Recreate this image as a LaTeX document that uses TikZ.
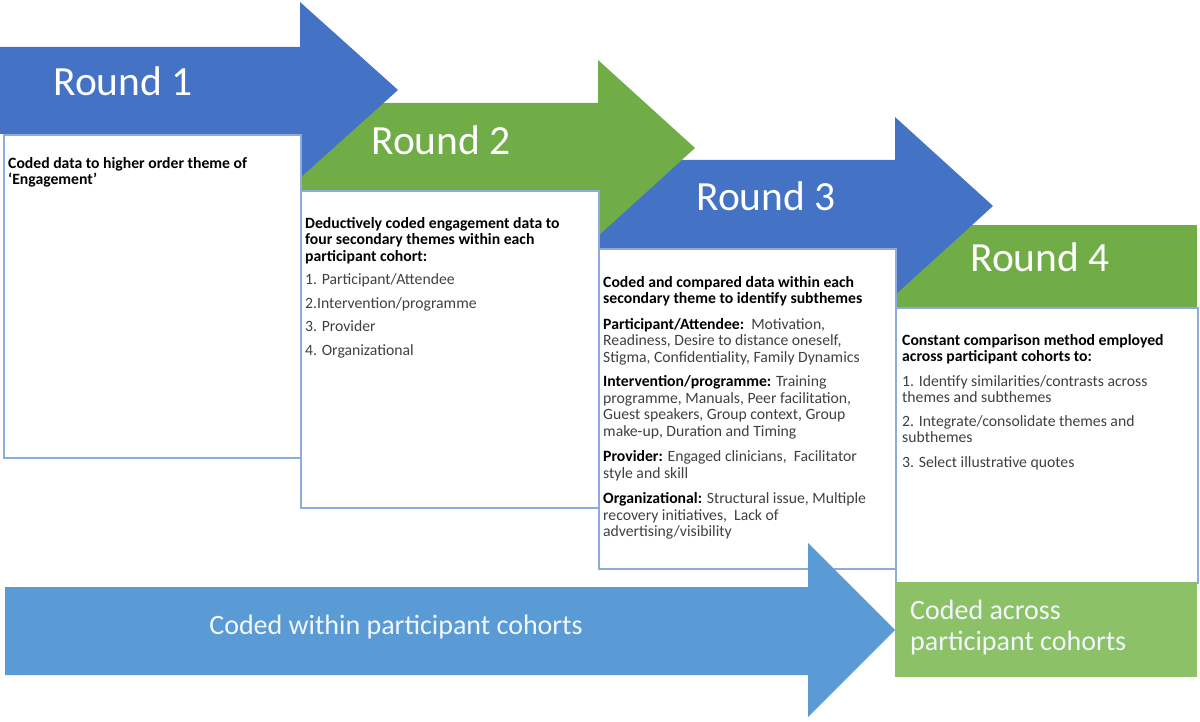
\documentclass[tikz,border=0pt]{standalone}
\usepackage{fontspec}
\setmainfont{Carlito}
\definecolor{rblue}{HTML}{4472C4}
\definecolor{rgreen}{HTML}{70AD47}
\definecolor{lblue}{HTML}{5B9BD5}
\definecolor{lgreen}{HTML}{8CC168}
\definecolor{edgec}{HTML}{8FAADC}
\definecolor{txt}{HTML}{404040}
\begin{document}
\begin{tikzpicture}[x=1pt,y=-1pt,
  box/.style={draw=edgec, line width=1.8pt, fill=white, inner sep=0pt, anchor=north west},
  roundlbl/.style={text=white, font=\fontsize{41.5}{48}\selectfont, inner sep=0pt},
  bodytxt/.style={anchor=north west, align=left, inner sep=0pt, text=txt, font=\fontsize{15.7}{16.5}\selectfont},
  bigtxt/.style={text=white!92!lblue, inner sep=0pt, font=\fontsize{28}{31}\selectfont, align=left},
]
\useasboundingbox (0,0) rectangle (1200,722);
\newcommand{\bt}[1]{\textbf{\color{black}#1}}

% Round 4
\fill[rgreen] (895,225) rectangle (1197,307);
\node[box, minimum width=302pt, minimum height=275pt] (b4) at (895,307) {};

% Round 3
\fill[rblue] (598,160) -- (895,160) -- (895,117) -- (993,206) -- (895,295) -- (895,248) -- (598,248) -- cycle;
\node[box, minimum width=297pt, minimum height=320pt] (b3) at (598,248) {};

% Round 2
\fill[rgreen] (300,103) -- (598,103) -- (598,60) -- (695,148) -- (598,236) -- (598,190) -- (300,190) -- cycle;
\node[box, minimum width=298pt, minimum height=317pt] (b2) at (300,190) {};

% Round 1
\fill[rblue] (0,47) -- (300,47) -- (300,2) -- (398,90) -- (300,178) -- (300,134) -- (0,134) -- cycle;
\node[box, minimum width=297pt, minimum height=323pt] (b1) at (3,134) {};

% bottom arrow
\fill[lblue] (5,587) -- (808,587) -- (808,543) -- (895,630) -- (808,717) -- (808,675) -- (5,675) -- cycle;
\node[fill=lgreen, inner sep=0pt, minimum width=302pt, minimum height=95pt, anchor=north west] (across) at (895,582) {};

% round labels
\node[roundlbl] (r1) at (123,81) {Round 1};
\node[roundlbl] (r2) at (441,140) {Round 2};
\node[roundlbl] (r3) at (766,196) {Round 3};
\node[roundlbl] (r4) at (1040,257) {Round 4};

% bottom labels
\node[bigtxt] (within) at (396,627) {Coded within participant cohorts};
\node[bigtxt, anchor=west] (acrosstxt) at (910,628) {Coded across\\participant cohorts};

% box texts
\node[bodytxt] (t1) at (8,157) {\bt{Coded data to higher order theme of}\\\bt{`Engagement'}};

\node[bodytxt] (t2) at (305,217) {\bt{Deductively coded engagement data to}\\
\bt{four secondary themes within each}\\
\bt{participant cohort:}\\[7pt]
1. Participant/Attendee\\[7pt]
2.Intervention/programme\\[7pt]
3. Provider\\[7pt]
4. Organizational};

\node[bodytxt] (t3) at (603,276) {\bt{Coded and compared data within each}\\
\bt{secondary theme to identify subthemes}\\[9pt]
\bt{Participant/Attendee:}\ \ Motivation,\\
Readiness, Desire to distance oneself,\\
Stigma, Confidentiality, Family Dynamics\\[8pt]
\bt{Intervention/programme:} Training\\
programme, Manuals, Peer facilitation,\\
Guest speakers, Group context, Group\\
make-up, Duration and Timing\\[9pt]
\bt{Provider:} Engaged clinicians,\ \ Facilitator\\
style and skill\\[9pt]
\bt{Organizational:} Structural issue, Multiple\\
recovery initiatives,\ \ Lack of\\
advertising/visibility};

\node[bodytxt] (t4) at (902,334) {\bt{Constant comparison method employed}\\
\bt{across participant cohorts to:}\\[8pt]
1. Identify similarities/contrasts across\\
themes and subthemes\\[7pt]
2. Integrate/consolidate themes and\\
subthemes\\[8pt]
3. Select illustrative quotes};
\end{tikzpicture}
\end{document}
